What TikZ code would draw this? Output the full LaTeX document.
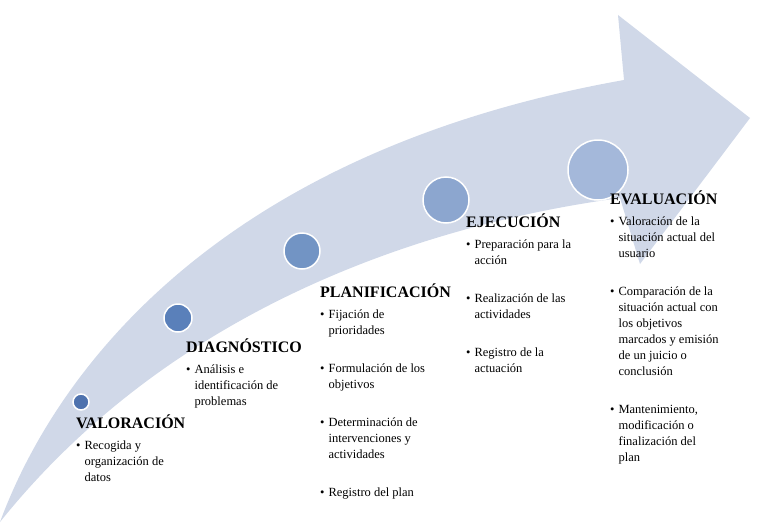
\documentclass[tikz,border=0pt]{standalone}
\usepackage{fontspec}
\setmainfont{Liberation Serif}
\begin{document}
\begin{tikzpicture}[x=1pt,y=-1pt,
  stage/.style={anchor=north west,inner sep=0pt,font=\fontsize{12.5}{16}\selectfont},
  dot/.style={circle,draw=white,line width=1.5pt,inner sep=0pt}]
\definecolor{arrowfill}{HTML}{D0D8E8}
\useasboundingbox (0,0) rectangle (767,527);
\fill[arrowfill] (0,522) .. controls (60,360) and (230,150) .. (624,80) -- (618,15) -- (750,118) -- (640,264) -- (620,198) .. controls (420,225) and (170,310) .. (0,522);
\node[dot,fill={rgb,255:red,78;green,114;blue,174},minimum size=16pt] (c1) at (81,402) {};
\node[dot,fill={rgb,255:red,90;green,128;blue,186},minimum size=28pt] (c2) at (178,318) {};
\node[dot,fill={rgb,255:red,114;green,148;blue,196},minimum size=36pt] (c3) at (302,251) {};
\node[dot,fill={rgb,255:red,140;green,166;blue,207},minimum size=46pt] (c4) at (446,200) {};
\node[dot,fill={rgb,255:red,164;green,184;blue,218},minimum size=60pt] (c5) at (598,170) {};
\newcommand\hd[1]{\multicolumn{2}{@{}l@{}}{\fontsize{16}{18}\selectfont\bfseries #1}}
\node[stage] (s1) at (76,415) {\begin{tabular}{@{}l@{\hspace{4pt}}l@{}}
\hd{VALORACIÓN}\\[5pt]
•&Recogida y\\ &organización de\\ &datos\end{tabular}};
\node[stage] (s2) at (186,339) {\begin{tabular}{@{}l@{\hspace{4pt}}l@{}}
\hd{DIAGNÓSTICO}\\[5pt]
•&Análisis e\\ &identificación de\\ &problemas\end{tabular}};
\node[stage] (s3) at (320,284) {\begin{tabular}{@{}l@{\hspace{4pt}}l@{}}
\hd{PLANIFICACIÓN}\\[5pt]
•&Fijación de\\ &prioridades\\[22pt]
•&Formulación de los\\ &objetivos\\[22pt]
•&Determinación de\\ &intervenciones y\\ &actividades\\[22pt]
•&Registro del plan\end{tabular}};
\node[stage] (s4) at (466,214) {\begin{tabular}{@{}l@{\hspace{4pt}}l@{}}
\hd{EJECUCIÓN}\\[5pt]
•&Preparación para la\\ &acción\\[22pt]
•&Realización de las\\ &actividades\\[22pt]
•&Registro de la\\ &actuación\end{tabular}};
\node[stage] (s5) at (610,191) {\begin{tabular}{@{}l@{\hspace{4pt}}l@{}}
\hd{EVALUACIÓN}\\[5pt]
•&Valoración de la\\ &situación actual del\\ &usuario\\[22pt]
•&Comparación de la\\ &situación actual con\\ &los objetivos\\ &marcados y emisión\\ &de un juicio o\\ &conclusión\\[22pt]
•&Mantenimiento,\\ &modificación o\\ &finalización del\\ &plan\end{tabular}};
\end{tikzpicture}
\end{document}
